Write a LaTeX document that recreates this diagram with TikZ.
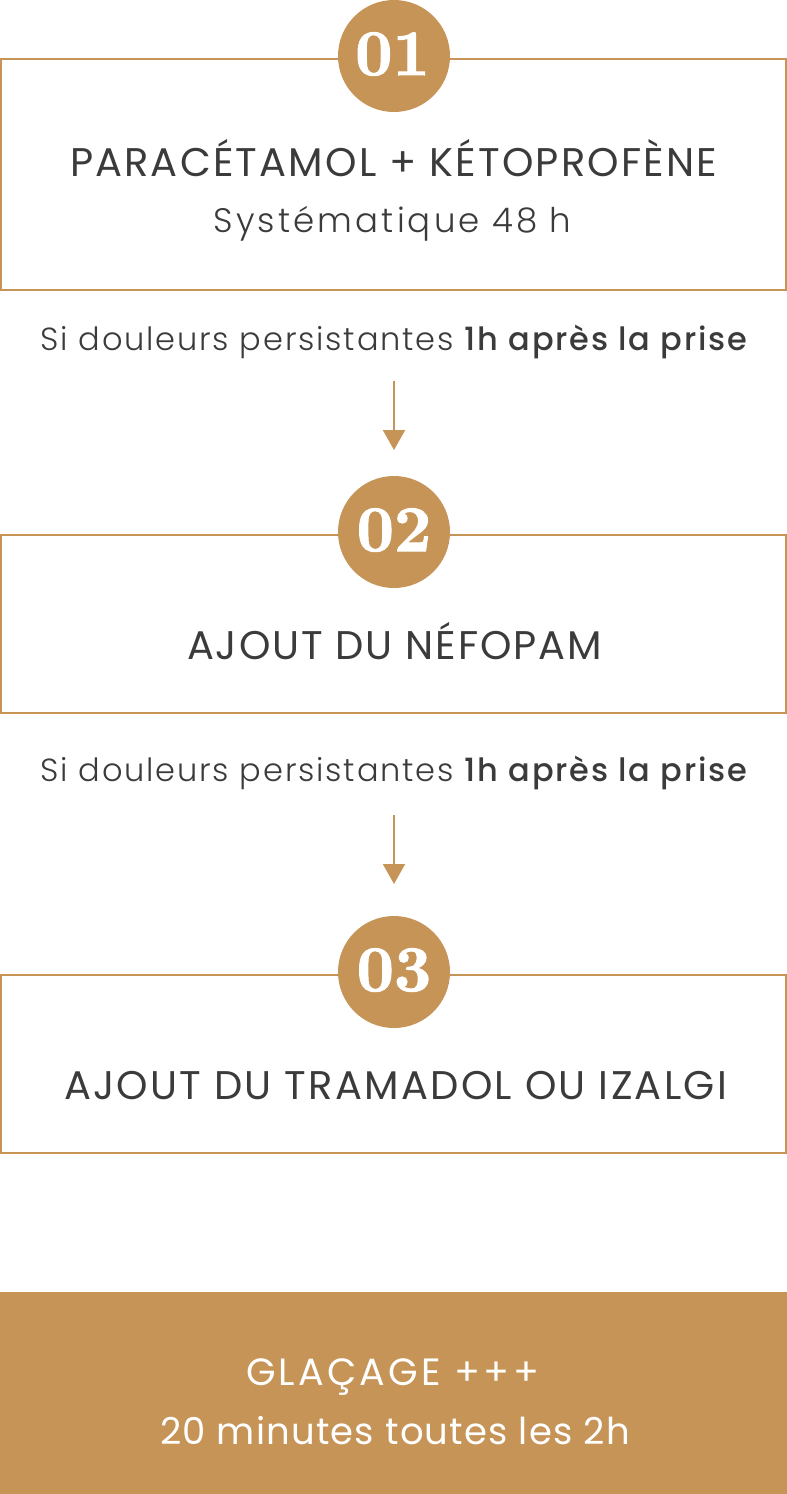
\documentclass[tikz,border=0pt]{standalone}
\usepackage{fontspec}
\usetikzlibrary{arrows.meta}
\newfontfamily\popL{Poppins Light}
\newfontfamily\popR{Poppins}
\newfontfamily\popM{Poppins Medium}
\newfontfamily\numfont{lmroman10-bold}[Extension=.otf, FakeBold=1.6]
\definecolor{gold}{HTML}{C69457}
\definecolor{ink}{HTML}{3B3B3B}
\newlength\natw
\newlength\spw
\def\curls{0}
\newcommand\setls[1]{\edef\tmpls{\noexpand\addfontfeature{LetterSpace=#1}}\tmpls}
\newcommand\bpart[1]{{\popM\setls{\curls}#1}}
\newcommand\fittext[3]{\begingroup#1\def\curls{0}\settowidth\natw{#3}%
  \def\curls{10}\settowidth\spw{\setls{10}#3}%
  \pgfmathsetmacro\curls{10*(#2-\natw)/(\spw-\natw)}%
  \setls{\curls}#3\endgroup}
\tikzset{
  stepframe/.style={draw=gold, line width=2pt, minimum width=785pt, inner sep=0pt, outer sep=0pt, anchor=north west},
  numdisc/.style={circle, fill=gold, minimum size=112pt, inner sep=0pt},
  numtext/.style={anchor=base, inner sep=0pt, text=white, font=\numfont\fontsize{65}{65}\selectfont},
  lbl/.style={anchor=base, inner sep=0pt, text=ink},
  wlbl/.style={anchor=base, inner sep=0pt, text=white},
  flow/.style={draw=gold, line width=2pt, -{Triangle[width=22pt,length=20pt]}},
}
\begin{document}
\begin{tikzpicture}[x=1pt,y=-1pt]
\useasboundingbox (0,0) rectangle (787,1494);
% step 1
\node[stepframe, minimum height=231pt] (box1) at (1,59) {};
\node[numdisc] (num1) at (394,56) {};
\node[numtext] (n1) at (392.5,75) {01};
\node[lbl] (title1) at (393.5,176) {\fittext{\popR\fontsize{40}{48}\selectfont}{647}{PARACÉTAMOL + KÉTOPROFÈNE}};
\node[lbl] (sub1) at (392.5,232) {\fittext{\popL\fontsize{34}{40}\selectfont}{358}{Systématique 48 h}};
\node[lbl] (cond1) at (394,350) {\fittext{\popL\fontsize{32}{40}\selectfont}{707}{Si douleurs persistantes \bpart{1h après la prise}}};
\coordinate (a1s) at (394,381);
\coordinate (a1e) at (394,450);
\draw[flow] (a1s) -- (a1e);
% step 2
\node[stepframe, minimum height=178pt] (box2) at (1,535) {};
\node[numdisc] (num2) at (394,532) {};
\node[numtext] (n2) at (394,551) {02};
\node[lbl] (title2) at (394.5,659) {\fittext{\popR\fontsize{40}{48}\selectfont}{415}{AJOUT DU NÉFOPAM}};
\node[lbl] (cond2) at (394,781) {\fittext{\popL\fontsize{32}{40}\selectfont}{707}{Si douleurs persistantes \bpart{1h après la prise}}};
\coordinate (a2s) at (394,815);
\coordinate (a2e) at (394,884);
\draw[flow] (a2s) -- (a2e);
% step 3
\node[stepframe, minimum height=178pt] (box3) at (1,975) {};
\node[numdisc] (num3) at (394,972) {};
\node[numtext] (n3) at (394,991) {03};
\node[lbl] (title3) at (395.5,1099) {\fittext{\popR\fontsize{40}{48}\selectfont}{663}{AJOUT DU TRAMADOL OU IZALGI}};
% glaçage
\fill[gold] (0,1292) rectangle (787,1494);
\node[wlbl] (glace) at (392.5,1385) {\fittext{\popR\fontsize{38}{46}\selectfont}{293}{GLAÇAGE +++}};
\node[wlbl] (glace2) at (395,1444) {\fittext{\popR\fontsize{37}{46}\selectfont}{470}{20 minutes toutes les 2h}};
\end{tikzpicture}
\end{document}
